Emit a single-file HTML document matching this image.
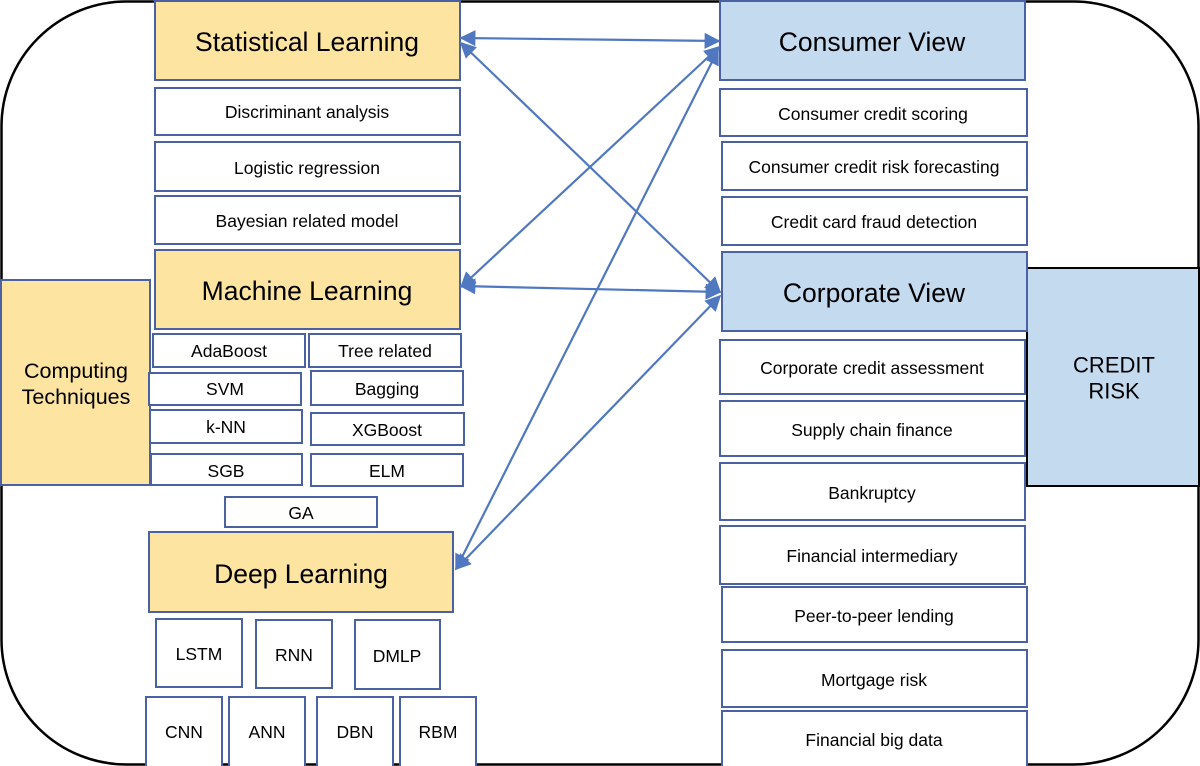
<!DOCTYPE html>
<html><head><meta charset="utf-8"><style>
html,body{margin:0;padding:0;background:#fff;}
svg{display:block;}
text{font-family:"Liberation Sans",Arial,sans-serif;fill:#000;text-anchor:middle;dominant-baseline:central;}
.b{fill:#fff;stroke:#4a62a4;stroke-width:2;}
.y{fill:#fde4a1;stroke:#4a62a4;stroke-width:2;}
.c{fill:#c4daef;stroke:#4a62a4;stroke-width:2;}
.s{font-size:17.5px;}
.l{font-size:26.5px;}
</style></head><body>
<svg width="1200" height="766" viewBox="0 0 1200 766" xmlns="http://www.w3.org/2000/svg">
<defs>
<marker id="m2" viewBox="0 0 10 10" refX="9" refY="5" markerWidth="16" markerHeight="16" orient="auto-start-reverse" markerUnits="userSpaceOnUse"><path d="M0,0 L10,5 L0,10 z" fill="#4f78c0"/></marker></defs>
<rect x="1.5" y="1.5" width="1197" height="763" rx="125" ry="125" fill="#fff" stroke="#000" stroke-width="2.5"/>
<rect x="1027" y="268" width="172" height="218" fill="#c4daef" stroke="#000" stroke-width="2"/>
<text x="1114" y="365" style="font-size:22px">CREDIT</text>
<text x="1114" y="391" style="font-size:22px">RISK</text>
<rect x="1" y="280" width="149" height="205" class="y"/>
<text x="76" y="371" style="font-size:21.5px">Computing</text>
<text x="76" y="397" style="font-size:21.5px">Techniques</text>
<rect x="155" y="1" width="305" height="79" class="y"/><text x="307" y="42" class="l">Statistical Learning</text>
<rect x="155" y="88" width="305" height="47" class="b"/><text x="307" y="112" class="s">Discriminant analysis</text>
<rect x="155" y="142" width="305" height="49" class="b"/><text x="307" y="168" class="s">Logistic regression</text>
<rect x="155" y="196" width="305" height="48" class="b"/><text x="307" y="221" class="s">Bayesian related model</text>
<rect x="155" y="250" width="305" height="79" class="y"/><text x="307" y="291" class="l">Machine Learning</text>
<rect x="153" y="334" width="152" height="33" class="b"/><text x="229" y="351" class="s">AdaBoost</text>
<rect x="309" y="334" width="152" height="33" class="b"/><text x="385" y="351" class="s">Tree related</text>
<rect x="149" y="373" width="152" height="32" class="b"/><text x="225" y="389" class="s">SVM</text>
<rect x="311" y="371" width="152" height="34" class="b"/><text x="387" y="389" class="s">Bagging</text>
<rect x="150" y="410" width="152" height="33" class="b"/><text x="226" y="427" class="s">k-NN</text>
<rect x="311" y="413" width="153" height="32" class="b"/><text x="387" y="430" class="s">XGBoost</text>
<rect x="151" y="454" width="151" height="31" class="b"/><text x="226" y="471" class="s">SGB</text>
<rect x="311" y="454" width="152" height="32" class="b"/><text x="387" y="471" class="s">ELM</text>
<rect x="225" y="497" width="152" height="30" class="b"/><text x="301" y="513" class="s">GA</text>
<rect x="149" y="532" width="304" height="80" class="y"/><text x="301" y="574" class="l">Deep Learning</text>
<rect x="156" y="619" width="86" height="68" class="b"/><text x="199" y="654" class="s">LSTM</text>
<rect x="256" y="620" width="76" height="68" class="b"/><text x="294" y="655" class="s">RNN</text>
<rect x="355" y="620" width="85" height="69" class="b"/><text x="397" y="656" class="s">DMLP</text>
<rect x="146" y="697" width="76" height="70" class="b"/><text x="184" y="732" class="s">CNN</text>
<rect x="229" y="697" width="76" height="70" class="b"/><text x="267" y="732" class="s">ANN</text>
<rect x="317" y="697" width="76" height="70" class="b"/><text x="355" y="732" class="s">DBN</text>
<rect x="400" y="697" width="76" height="70" class="b"/><text x="438" y="732" class="s">RBM</text>
<rect x="720" y="1" width="305" height="79" class="c"/><text x="872" y="42" class="l">Consumer View</text>
<rect x="720" y="89" width="307" height="47" class="b"/><text x="873" y="114" class="s">Consumer credit scoring</text>
<rect x="722" y="142" width="305" height="48" class="b"/><text x="874" y="167" class="s">Consumer credit risk forecasting</text>
<rect x="722" y="197" width="305" height="48" class="b"/><text x="874" y="222" class="s">Credit card fraud detection</text>
<rect x="722" y="252" width="305" height="79" class="c"/><text x="874" y="293" class="l">Corporate View</text>
<rect x="720" y="340" width="305" height="54" class="b"/><text x="872" y="368" class="s">Corporate credit assessment</text>
<rect x="720" y="401" width="305" height="55" class="b"/><text x="872" y="430" class="s">Supply chain finance</text>
<rect x="720" y="463" width="305" height="57" class="b"/><text x="872" y="493" class="s">Bankruptcy</text>
<rect x="720" y="526" width="305" height="58" class="b"/><text x="872" y="556" class="s">Financial intermediary</text>
<rect x="722" y="587" width="305" height="55" class="b"/><text x="874" y="616" class="s">Peer-to-peer lending</text>
<rect x="722" y="650" width="305" height="57" class="b"/><text x="874" y="680" class="s">Mortgage risk</text>
<rect x="722" y="711" width="305" height="56" class="b"/><text x="874" y="740" class="s">Financial big data</text>
<g stroke="#4f78c0" stroke-width="2.2" fill="none" marker-start="url(#m2)" marker-end="url(#m2)">
<line x1="461" y1="38" x2="719" y2="41"/>
<line x1="461" y1="43" x2="720" y2="292"/>
<line x1="461" y1="287" x2="719" y2="47"/>
<line x1="461" y1="286" x2="720" y2="292"/>
<line x1="456" y1="569" x2="718" y2="50"/>
<line x1="456" y1="569" x2="720" y2="296"/>
</g>
</svg>
</body></html>
